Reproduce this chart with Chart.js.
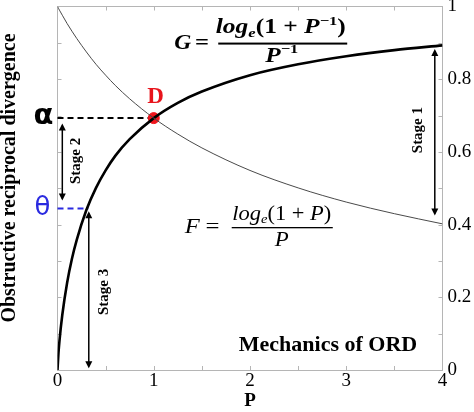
<!DOCTYPE html>
<html>
<head>
<meta charset="utf-8">
<script src="https://cdn.jsdelivr.net/npm/chart.js@4"></script>
<style>
  html, body { margin: 0; padding: 0; background: #fff; }
  #wrap { width: 474px; height: 412px; }
</style>
</head>
<body>
<div id="wrap"><canvas id="ord"></canvas></div>
<script>
// P values along the x axis
const pValues = [0, 0.01, 0.02, 0.05, 0.1, 0.15, 0.2, 0.3, 0.4, 0.5, 0.6, 0.75, 1, 1.25, 1.5, 2, 2.5, 3, 3.5, 4];
// G = log_e(1 + P^-1) / P^-1  (thick black curve)
const gValues = [0, 0.046, 0.079, 0.152, 0.240, 0.306, 0.358, 0.440, 0.501, 0.549, 0.589, 0.635, 0.693, 0.735, 0.766, 0.811, 0.841, 0.863, 0.880, 0.893];
// F = log_e(1 + P) / P  (thin grey curve)
const fValues = [1, 0.995, 0.990, 0.976, 0.953, 0.932, 0.912, 0.875, 0.841, 0.811, 0.783, 0.746, 0.693, 0.649, 0.611, 0.549, 0.501, 0.462, 0.430, 0.402];
// crossing point D, and the theta level
const dPoint = { x: 1, y: 0.693 };
const thetaPoint = { x: 0.32, y: 0.444 };
const yTicks = [0, 0.2, 0.4, 0.6, 0.8, 1];
const xTicks = [0, 1, 2, 3, 4];

const serif = '"Liberation Serif", "Times New Roman", serif';
const axisGrey = '#b5b5b5';

function arrow(ctx, x, y1, y2) {
  // vertical double headed arrow
  const h = 7, w = 3.5;
  ctx.save();
  ctx.strokeStyle = '#000';
  ctx.fillStyle = '#000';
  ctx.lineWidth = 1.5;
  ctx.beginPath();
  ctx.moveTo(x, y1 + 2);
  ctx.lineTo(x, y2 - 2);
  ctx.stroke();
  ctx.beginPath();
  ctx.moveTo(x, y1); ctx.lineTo(x - w, y1 + h); ctx.lineTo(x + w, y1 + h); ctx.closePath();
  ctx.fill();
  ctx.beginPath();
  ctx.moveTo(x, y2); ctx.lineTo(x - w, y2 - h); ctx.lineTo(x + w, y2 - h); ctx.closePath();
  ctx.fill();
  ctx.restore();
}

function runsWidth(ctx, runs) {
  let w = 0;
  runs.forEach(r => { ctx.font = r.f; w += ctx.measureText(r.t).width; });
  return w;
}

// draws text pieces side by side, centred on cx, stretched to width tw if given
function drawRuns(ctx, runs, cx, cy, tw) {
  const w = runsWidth(ctx, runs);
  const sx = tw ? tw / w : 1;
  ctx.save();
  ctx.translate(cx - (w * sx) / 2, cy);
  ctx.scale(sx, 1);
  ctx.textAlign = 'left';
  ctx.textBaseline = 'middle';
  let x = 0;
  runs.forEach(r => {
    ctx.font = r.f;
    ctx.fillText(r.t, x, r.dy || 0);
    x += ctx.measureText(r.t).width;
  });
  ctx.restore();
}

function rotatedText(ctx, text, font, x, y) {
  ctx.save();
  ctx.translate(x, y);
  ctx.rotate(-Math.PI / 2);
  ctx.font = font;
  ctx.fillStyle = '#000';
  ctx.textAlign = 'center';
  ctx.textBaseline = 'middle';
  ctx.fillText(text, 0, 0);
  ctx.restore();
}

const annotations = {
  id: 'annotations',
  beforeDatasetsDraw(chart) {
    const ctx = chart.ctx;
    const xs = chart.scales.x, ys = chart.scales.y;
    const X = v => xs.getPixelForValue(v), Y = v => ys.getPixelForValue(v);
    ctx.save();
    // inward minor ticks on the frame
    ctx.strokeStyle = axisGrey;
    ctx.lineWidth = 1;
    for (let i = 1; i < 8; i++) {
      const px = Math.round(X(i * 0.5)) + 0.5;
      ctx.beginPath();
      ctx.moveTo(px, Y(0)); ctx.lineTo(px, Y(0) - 4);
      ctx.moveTo(px, Y(1)); ctx.lineTo(px, Y(1) + 4);
      ctx.stroke();
    }
    for (let i = 1; i < 10; i++) {
      const py = Math.round(Y(i * 0.1)) + 0.5;
      ctx.beginPath();
      ctx.moveTo(X(0), py); ctx.lineTo(X(0) + 4, py);
      ctx.moveTo(X(4), py); ctx.lineTo(X(4) - 4, py);
      ctx.stroke();
    }
    // dashed guides to alpha and theta
    ctx.lineWidth = 2;
    ctx.setLineDash([6, 4]);
    ctx.strokeStyle = '#000';
    ctx.beginPath();
    ctx.moveTo(X(0), Y(dPoint.y)); ctx.lineTo(X(dPoint.x), Y(dPoint.y));
    ctx.stroke();
    ctx.strokeStyle = '#2a2ae0';
    ctx.beginPath();
    ctx.moveTo(X(0), Y(thetaPoint.y)); ctx.lineTo(X(thetaPoint.x), Y(thetaPoint.y));
    ctx.stroke();
    ctx.setLineDash([]);
    ctx.restore();
  },
  afterDatasetsDraw(chart) {
    const ctx = chart.ctx;
    const xs = chart.scales.x, ys = chart.scales.y;
    const X = v => xs.getPixelForValue(v), Y = v => ys.getPixelForValue(v);
    ctx.save();
    ctx.fillStyle = '#000';

    // y axis title
    rotatedText(ctx, 'Obstructive reciprocal divergence', 'bold 20px ' + serif, 10, 178);

    // alpha / theta
    ctx.textAlign = 'center';
    ctx.textBaseline = 'middle';
    ctx.font = 'bold 29px "DejaVu Sans", sans-serif';
    ctx.fillText('α', X(0) - 14, Y(dPoint.y) - 2);
    ctx.fillStyle = '#2a2ae0';
    ctx.font = '26px "DejaVu Sans", sans-serif';
    ctx.fillText('θ', X(0) - 15, Y(thetaPoint.y));

    // D label
    ctx.fillStyle = '#e8141c';
    ctx.font = 'bold 23px ' + serif;
    ctx.fillText('D', X(1.02), Y(0.752));

    // stage arrows
    const sf = 'bold 15px ' + serif;
    arrow(ctx, X(0.05), Y(0.678), Y(0.466));
    rotatedText(ctx, 'Stage 2', sf, X(0.195), Y(0.575));
    arrow(ctx, X(0.325), Y(0.437), Y(0.005));
    rotatedText(ctx, 'Stage 3', sf, X(0.48), Y(0.215));
    arrow(ctx, X(3.92), Y(0.883), Y(0.425));
    rotatedText(ctx, 'Stage 1', sf, X(3.745), Y(0.66));

    // G formula
    ctx.fillStyle = '#000';
    const bi = 'bold italic 20px ' + serif, b = 'bold 20px ' + serif;
    const bs = 'bold italic 13px ' + serif, bsu = 'bold 13px ' + serif;
    drawRuns(ctx, [{ t: 'G', f: bi }], X(1.30), Y(0.898), 17);
    drawRuns(ctx, [{ t: '=', f: b }], X(1.50), Y(0.898), 14);
    drawRuns(ctx, [
      { t: 'log', f: bi }, { t: 'e', f: bs, dy: 5 }, { t: '(1 + ', f: b },
      { t: 'P', f: bi }, { t: '−1', f: bsu, dy: -7 }, { t: ')', f: b }
    ], X(2.32), Y(0.94), 130);
    ctx.fillRect(X(1.67), Y(0.898) - 1, X(3.01) - X(1.67), 2);
    drawRuns(ctx, [{ t: 'P', f: bi }, { t: '−1', f: bsu, dy: -7 }], X(2.33), Y(0.862), 33);

    // F formula
    const it = 'italic 20px ' + serif, rm = '20px ' + serif, its = 'italic 13px ' + serif;
    drawRuns(ctx, [{ t: 'F', f: it }], X(1.40), Y(0.392), 15);
    drawRuns(ctx, [{ t: '=', f: rm }], X(1.61), Y(0.392), 14);
    drawRuns(ctx, [
      { t: 'log', f: it }, { t: 'e', f: its, dy: 5 }, { t: '(1 + ', f: rm },
      { t: 'P', f: it }, { t: ')', f: rm }
    ], X(2.33), Y(0.428), 99);
    ctx.fillRect(X(1.81), Y(0.392) - 0.5, X(2.86) - X(1.81), 1.3);
    drawRuns(ctx, [{ t: 'P', f: it }], X(2.33), Y(0.355), 14);

    // caption
    ctx.fillStyle = '#000';
    ctx.font = 'bold 22px ' + serif;
    ctx.textAlign = 'center';
    ctx.textBaseline = 'middle';
    ctx.fillText('Mechanics of ORD', X(2.81), Y(0.068));
    ctx.restore();
  }
};

new Chart(document.getElementById('ord'), {
  type: 'line',
  data: {
    datasets: [
      {
        label: 'F',
        data: pValues.map((p, i) => ({ x: p, y: fValues[i] })),
        borderColor: '#4a4a4a',
        borderWidth: 1,
        pointRadius: 0,
        cubicInterpolationMode: 'monotone'
      },
      {
        label: 'G',
        data: pValues.map((p, i) => ({ x: p, y: gValues[i] })),
        borderColor: '#000',
        borderWidth: 2.6,
        pointRadius: 0,
        cubicInterpolationMode: 'monotone'
      },
      {
        label: 'D',
        type: 'scatter',
        data: [dPoint],
        backgroundColor: '#f0141c',
        borderColor: '#f0141c',
        pointRadius: 5.5
      }
    ]
  },
  options: {
    responsive: true,
    maintainAspectRatio: false,
    animation: false,
    layout: { padding: 0 },
    plugins: { legend: { display: false }, tooltip: { enabled: false } },
    scales: {
      x: {
        type: 'linear', position: 'bottom', min: 0, max: 4,
        afterBuildTicks: s => { s.ticks = xTicks.map(v => ({ value: v })); },
        ticks: { color: '#000', font: { family: serif, size: 19 }, padding: 0, maxRotation: 0 },
        grid: { display: false, drawTicks: false },
        border: { color: axisGrey },
        title: { display: true, text: 'P', color: '#000', font: { family: serif, size: 19, weight: 'bold' }, padding: 0 },
        afterFit: s => { s.height = 42; s.paddingLeft = 0; s.paddingRight = 0; }
      },
      xTop: {
        type: 'linear', position: 'top', min: 0, max: 4,
        ticks: { display: false },
        grid: { display: false, drawTicks: false },
        border: { color: axisGrey },
        afterFit: s => { s.height = 5; s.paddingLeft = 0; s.paddingRight = 0; }
      },
      yLeft: {
        type: 'linear', position: 'left', min: 0, max: 1,
        ticks: { display: false },
        grid: { display: false, drawTicks: false },
        border: { color: axisGrey },
        afterFit: s => { s.width = 57.5; s.paddingTop = 0; s.paddingBottom = 0; }
      },
      y: {
        type: 'linear', position: 'right', min: 0, max: 1,
        afterBuildTicks: s => { s.ticks = yTicks.map(v => ({ value: v })); },
        ticks: {
          color: '#000', font: { family: serif, size: 19 }, padding: 5,
          callback: v => String(+v.toFixed(1))
        },
        grid: { display: false, drawTicks: false },
        border: { color: axisGrey },
        afterFit: s => { s.width = 31.5; s.paddingTop = 0; s.paddingBottom = 0; }
      }
    }
  },
  plugins: [annotations]
});
</script>
</body>
</html>
